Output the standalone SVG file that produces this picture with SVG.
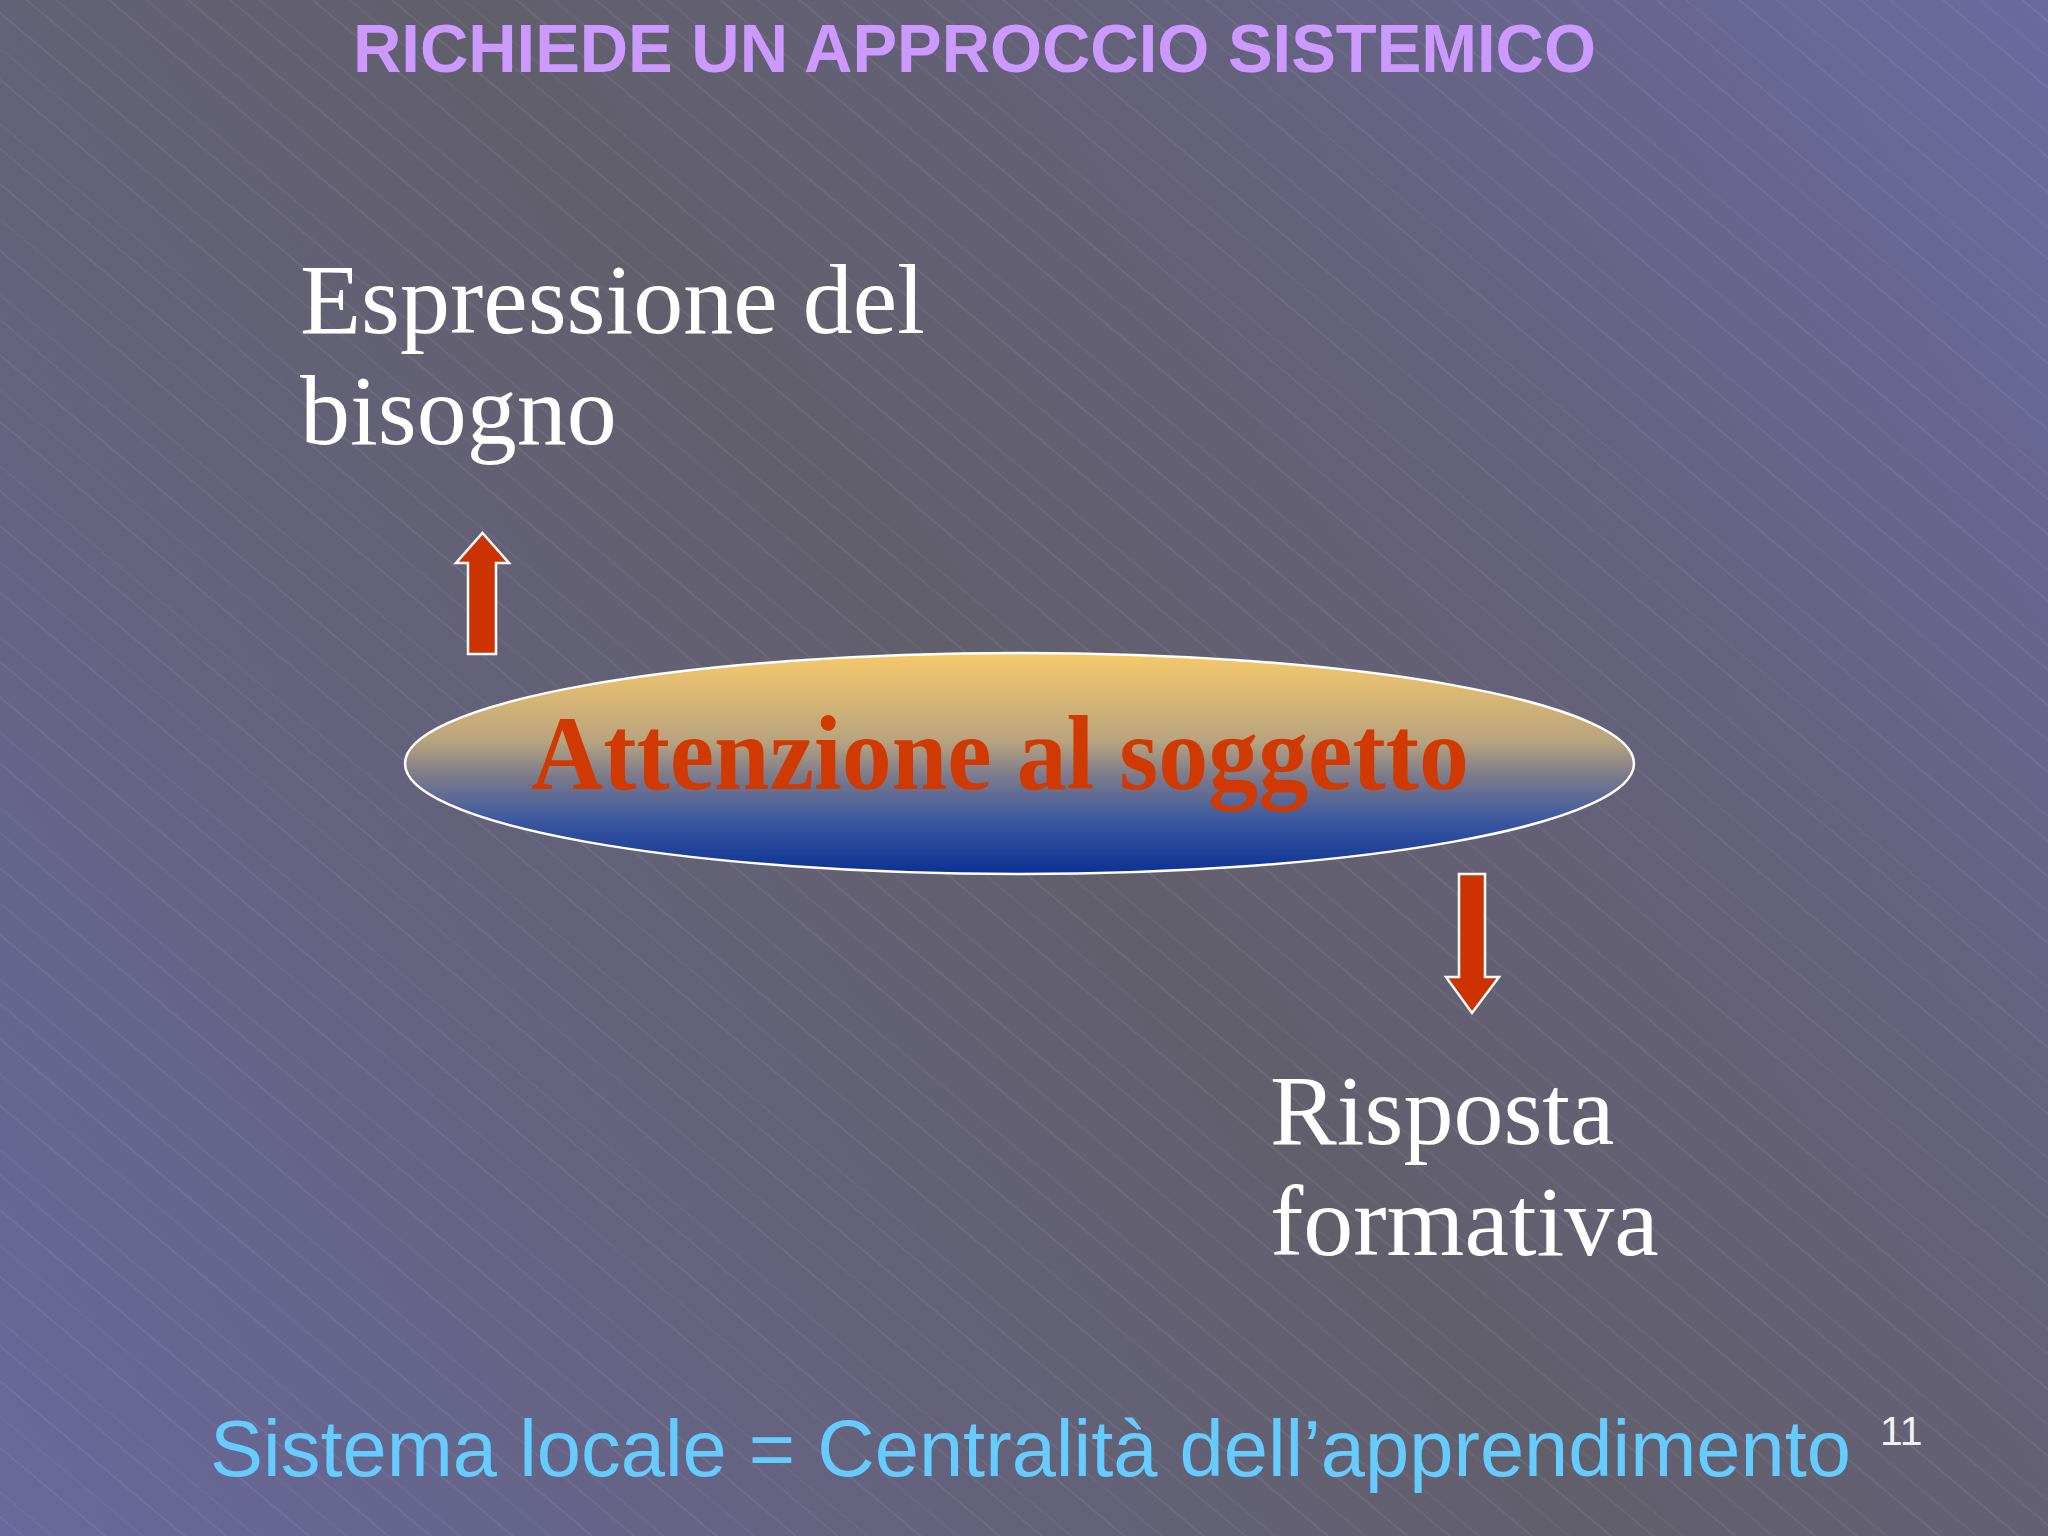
<svg xmlns="http://www.w3.org/2000/svg" width="2048" height="1536" viewBox="0 0 2048 1536">
  <defs>
    <linearGradient id="bg" gradientUnits="userSpaceOnUse" x1="2048" y1="0" x2="0" y2="1536">
      <stop offset="0" stop-color="#6b6aa0"/>
      <stop offset="0.3" stop-color="#64617a"/>
      <stop offset="0.5" stop-color="#625f6c"/>
      <stop offset="0.7" stop-color="#64627c"/>
      <stop offset="1" stop-color="#68689c"/>
    </linearGradient>
    <linearGradient id="ell" x1="0" y1="0" x2="0" y2="1">
      <stop offset="0" stop-color="#f7c96a"/>
      <stop offset="0.4" stop-color="#b8a37e"/>
      <stop offset="0.56" stop-color="#7b7a8c"/>
      <stop offset="0.76" stop-color="#3b58a0"/>
      <stop offset="1" stop-color="#0a3194"/>
    </linearGradient>
    <pattern id="lines" patternUnits="userSpaceOnUse" width="400" height="131" patternTransform="rotate(40)">
      <line x1="0" y1="10" x2="400" y2="10" stroke="#ffffff" stroke-opacity="0.13" stroke-width="1"/>
      <line x1="0" y1="37" x2="400" y2="37" stroke="#ffffff" stroke-opacity="0.07" stroke-width="1"/>
      <line x1="0" y1="61" x2="400" y2="61" stroke="#ffffff" stroke-opacity="0.12" stroke-width="1"/>
      <line x1="0" y1="95" x2="400" y2="95" stroke="#ffffff" stroke-opacity="0.08" stroke-width="1"/>
      <line x1="0" y1="114" x2="400" y2="114" stroke="#ffffff" stroke-opacity="0.1" stroke-width="1"/>
    </pattern>
  </defs>
  <style>
    .title { font-family: "Liberation Sans", Arial, sans-serif; font-weight: bold; font-size: 68px; fill: #cc99ff; }
    .serif { font-family: "Liberation Serif", "Times New Roman", serif; font-size: 100px; fill: #ffffff; }
    .center { font-family: "Liberation Serif", "Times New Roman", serif; font-weight: bold; font-size: 106px; fill: #d03a02; }
    .foot { font-family: "Liberation Sans", Arial, sans-serif; font-size: 80px; fill: #66ccff; }
    .num { font-family: "Liberation Sans", Arial, sans-serif; font-size: 41px; fill: #f2f2f2; }
    .arrow { fill: #cc3300; stroke: #ffffff; stroke-width: 2.5; stroke-linejoin: miter; }
  </style>

  <rect x="0" y="0" width="2048" height="1536" fill="url(#bg)"/>
  <rect x="0" y="0" width="2048" height="1536" fill="url(#lines)"/>

  <g id="title">
    <text class="title" x="353" y="72" textLength="1243" lengthAdjust="spacingAndGlyphs">RICHIEDE UN APPROCCIO SISTEMICO</text>
  </g>

  <g id="node-espressione">
    <text class="serif" x="300" y="333">Espressione del</text>
    <text class="serif" x="300" y="444">bisogno</text>
  </g>

  <g id="node-attenzione">
    <ellipse cx="1019.5" cy="763.5" rx="614.5" ry="110.5" fill="url(#ell)" stroke="#ffffff" stroke-width="2.5"/>
    <text class="center" x="531" y="789" textLength="938" lengthAdjust="spacingAndGlyphs">Attenzione al soggetto</text>
  </g>

  <g id="node-risposta">
    <text class="serif" x="1270" y="1144">Risposta</text>
    <text class="serif" x="1270" y="1255">formativa</text>
  </g>

  <g id="connectors">
    <polygon class="arrow" points="482.5,533 509,563 496,563 496,654 468,654 468,563 456,563"/>
    <polygon class="arrow" points="1459,874 1485,874 1485,977 1499,977 1472,1013 1446,977 1459,977"/>
  </g>

  <g id="footer">
    <text class="foot" x="210" y="1476" textLength="1641" lengthAdjust="spacingAndGlyphs">Sistema locale = Centralità dell’apprendimento</text>
    <text class="num" x="1880" y="1445">11</text>
  </g>
</svg>
